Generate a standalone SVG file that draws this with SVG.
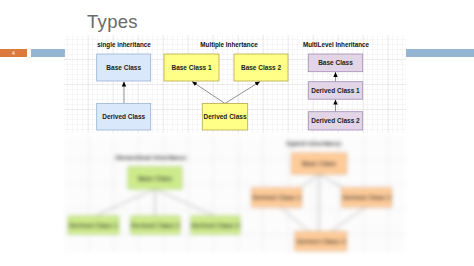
<svg xmlns="http://www.w3.org/2000/svg" width="474" height="266" viewBox="0 0 474 266">
<defs>
<pattern id="minor" width="5" height="5" patternUnits="userSpaceOnUse" x="64" y="35">
<path d="M5 0V5H0" fill="none" stroke="#e6e6e6" stroke-width="0.6"/>
</pattern>
<pattern id="major" width="25" height="25" patternUnits="userSpaceOnUse" x="64" y="35">
<rect width="25" height="25" fill="url(#minor)"/>
<path d="M25 0V25H0" fill="none" stroke="#d4d4d4" stroke-width="0.7"/>
</pattern>
<filter id="blur" x="-5%" y="-5%" width="110%" height="110%"><feGaussianBlur stdDeviation="2.3"/></filter>
<marker id="ah" markerWidth="6" markerHeight="6" refX="5" refY="3" orient="auto" markerUnits="userSpaceOnUse">
<path d="M0 0.8L5 3L0 5.2Z" fill="#000"/>
</marker>
</defs>
<style>
.lbl{font-family:"Liberation Sans",Arial,sans-serif;font-size:6.3px;font-weight:bold;fill:#111;text-anchor:middle}
.nt{font-family:"Liberation Sans",Arial,sans-serif;font-size:6.5px;font-weight:bold;fill:#222;text-anchor:middle;dominant-baseline:central}
.blue{fill:#dae8fc;stroke:#9ab2d4;stroke-width:0.8}
.yel{fill:#ffff88;stroke:#b8a84a;stroke-width:0.8}
.pur{fill:#e1d5e7;stroke:#a48bb3;stroke-width:0.8}
.grn{fill:#cdeb8b;stroke:#a8cc66;stroke-width:0.8}
.org{fill:#ffcc99;stroke:#d9a066;stroke-width:0.8}
.con{stroke:#777;stroke-width:0.8;fill:none;marker-end:url(#ah)}
</style>
<rect width="474" height="266" fill="#fff"/>
<text x="87" y="28" font-family="Liberation Sans,Arial,sans-serif" font-size="18.5" fill="#6a6a6a" letter-spacing="0.3">Types</text>
<rect x="0" y="49" width="27" height="8" fill="#dd7a3e"/>
<text x="13.5" y="55" font-family="Liberation Sans,Arial,sans-serif" font-size="5" fill="#fff" text-anchor="middle">4</text>
<rect x="31" y="49" width="34" height="8" fill="#94b6d3"/>
<rect x="406" y="49" width="68" height="8" fill="#94b6d3"/>

<rect x="64" y="35" width="342" height="98" fill="url(#major)"/>

<g id="labels-top">
<text class="lbl" x="124" y="47">single inheritance</text>
<text class="lbl" x="229" y="47">Multiple Inhertance</text>
<text class="lbl" x="336" y="47">MultiLevel Inheritance</text>
</g>

<g id="connectors">
<line class="con" x1="124" y1="103.5" x2="124" y2="81.5"/>
<line class="con" x1="225" y1="103.5" x2="192" y2="81.5"/>
<line class="con" x1="225" y1="103.5" x2="260" y2="81.5"/>
<line class="con" x1="335.5" y1="81.5" x2="335.5" y2="72"/>
<line class="con" x1="335.5" y1="111.5" x2="335.5" y2="99.5"/>
</g>

<g id="single-base"><rect class="blue" x="96.7" y="54" width="54" height="27"/><text class="nt" x="123.7" y="67.5">Base Class</text></g>
<g id="single-derived"><rect class="blue" x="96.7" y="103.5" width="54" height="26.5"/><text class="nt" x="123.7" y="116.8">Derived Class</text></g>

<g id="multi-base1"><rect class="yel" x="164" y="54" width="55" height="27"/><text class="nt" x="191.5" y="67.5">Base Class 1</text></g>
<g id="multi-base2"><rect class="yel" x="234" y="54" width="54" height="27"/><text class="nt" x="261" y="67.5">Base Class 2</text></g>
<g id="multi-derived"><rect class="yel" x="202.3" y="103.5" width="45.4" height="26.5"/><text class="nt" x="225" y="116.8">Derived Class</text></g>

<g id="ml-base"><rect class="pur" x="308.3" y="54" width="54.4" height="17.7"/><text class="nt" x="335.5" y="62.9">Base Class</text></g>
<g id="ml-derived1"><rect class="pur" x="308.3" y="81.7" width="54.4" height="17.5"/><text class="nt" x="335.5" y="90.5">Derived Class 1</text></g>
<g id="ml-derived2"><rect class="pur" x="308.3" y="111.7" width="54.4" height="18.3"/><text class="nt" x="335.5" y="120.9">Derived Class 2</text></g>

<g id="blurred" filter="url(#blur)">
<rect x="64" y="135" width="343" height="118" fill="url(#major)"/>
<text class="lbl" x="151" y="160">Hierarchical Inheritance</text>
<g stroke="#aaa" stroke-width="1">
<line x1="155" y1="189" x2="95" y2="216"/>
<line x1="155" y1="189" x2="155" y2="216"/>
<line x1="155" y1="189" x2="215" y2="216"/>
</g>
<rect class="grn" x="128" y="166.7" width="54" height="22.3"/><text class="nt" x="155" y="178">Base Class</text>
<rect class="grn" x="68" y="216" width="51" height="18"/><text class="nt" x="93.5" y="225">Derived Class 1</text>
<rect class="grn" x="130.7" y="216" width="49.3" height="18"/><text class="nt" x="155.3" y="225">Derived Class 2</text>
<rect class="grn" x="191" y="216" width="49" height="18"/><text class="nt" x="215.5" y="225">Derived Class 3</text>

<text class="lbl" x="314" y="146">Hybrid Inheritance</text>
<g stroke="#aaa" stroke-width="1">
<line x1="319" y1="174" x2="300" y2="188"/>
<line x1="319" y1="174" x2="343" y2="188"/>
<line x1="319" y1="174" x2="319" y2="232"/>
<line x1="280" y1="207" x2="310" y2="232"/>
<line x1="366" y1="207" x2="330" y2="232"/>
</g>
<rect class="org" x="291.7" y="153" width="55" height="21"/><text class="nt" x="319" y="163.5">Base Class</text>
<rect class="org" x="251.7" y="188" width="50" height="19"/><text class="nt" x="276.7" y="197.5">Derived Class 1</text>
<rect class="org" x="341.7" y="188" width="50" height="19"/><text class="nt" x="366.7" y="197.5">Derived Class 2</text>
<rect class="org" x="295" y="231.7" width="51.7" height="19"/><text class="nt" x="320.8" y="241.2">Derived Class 3</text>
</g>
</svg>
